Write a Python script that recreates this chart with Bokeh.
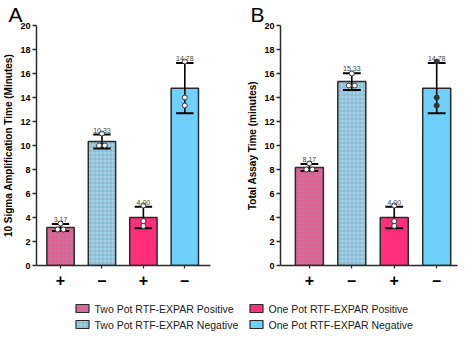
from bokeh.plotting import figure
from bokeh.models import Range1d, FixedTicker, Title, ColumnDataSource
from bokeh.layouts import column, row
from bokeh.embed import file_html
from bokeh.resources import INLINE
from bokeh.core.properties import value

# ---------------- data ----------------
groups = ["Two Pot RTF-EXPAR Positive", "Two Pot RTF-EXPAR Negative",
          "One Pot RTF-EXPAR Positive", "One Pot RTF-EXPAR Negative"]
tick_signs = ["+", "\u2013", "+", "\u2013"]
positions = [1, 2, 3, 4]

a_means = [3.17, 10.33, 4.00, 14.78]
a_errs = [0.29, 0.58, 0.9, 2.1]
a_points = [[3.0, 3.0, 3.5], [10.0, 10.0, 11.0], [3.3, 3.7, 5.0], [17.0, 14.0, 13.33]]
a_labels = ["3.17", "10.33", "4.00", "14.78"]

b_means = [8.17, 15.33, 4.00, 14.78]
b_errs = [0.29, 0.7, 0.9, 2.1]
b_points = [[8.0, 8.0, 8.5], [15.0, 15.0, 16.0], [3.3, 3.7, 5.0], [17.0, 14.0, 13.33]]
b_labels = ["8.17", "15.33", "4.00", "14.78"]

y_ticks = [0, 2, 4, 6, 8, 10, 12, 14, 16, 18, 20]

# ---------------- styles ----------------
FONT = "Liberation Sans"
fills = ["#ea5a93", "#9cd6ee", "#ff2f7b", "#6ed0fb"]
hatches = ["cross", "cross", " ", " "]
hatch_cols = ["#a78797", "#8ea4b4", "#ff2f7b", "#6ed0fb"]
point_fill = [["white"] * 4, ["white", "white", "white", "#333333"]]
jit = [-0.07, 0.07, 0.0]
BW = 0.66
CAP = 0.42
DARK = "#2b2b2b"


def panel(means, errs, points, labels, ylabel, letter, width, bl, br, xr, loff, pfill):
    p = figure(width=width, height=292, output_backend="svg", toolbar_location=None,
               x_range=Range1d(*xr), y_range=Range1d(0, 20),
               min_border_left=bl, min_border_right=br, min_border_top=0,
               min_border_bottom=27)
    p.outline_line_color = None
    p.xgrid.visible = False
    p.ygrid.visible = False
    p.background_fill_color = "white"
    p.border_fill_color = "white"

    src = ColumnDataSource(dict(x=positions, top=means, fill=fills, hatch=hatches,
                                hcol=hatch_cols))
    p.vbar(x="x", top="top", width=BW, bottom=0, source=src, fill_color="fill",
           line_color=DARK, line_width=1.5, hatch_pattern="hatch", hatch_color="hcol",
           hatch_scale=4, hatch_weight=0.7)

    lo = [m - e for m, e in zip(means, errs)]
    hi = [m + e for m, e in zip(means, errs)]
    p.segment(x0=positions, y0=lo, x1=positions, y1=hi, line_color="black", line_width=1.6)
    p.segment(x0=[x - CAP / 2 for x in positions], y0=hi,
              x1=[x + CAP / 2 for x in positions], y1=hi, line_color="black", line_width=2)
    p.segment(x0=[x - CAP / 2 for x in positions], y0=lo,
              x1=[x + CAP / 2 for x in positions], y1=lo, line_color="black", line_width=2)

    px, py, pf = [], [], []
    for i, pts in enumerate(points):
        for j, v in enumerate(pts):
            same = pts.count(v) > 1
            px.append(positions[i] + (jit[j] if same else 0.0))
            py.append(v)
            pf.append(pfill[i])
    p.scatter(px, py, size=5, fill_color=pf, line_color="#333333", line_width=1)

    p.text(x=positions, y=hi, text=labels, text_font=value(FONT), text_font_size="7px",
           text_color="#444444", text_align="center", text_baseline="bottom", y_offset=-2)

    ya = p.yaxis[0]
    ya.ticker = FixedTicker(ticks=y_ticks)
    ya.axis_label = ylabel
    ya.axis_label_text_font = FONT
    ya.axis_label_text_font_size = "10px"
    ya.axis_label_text_font_style = "bold"
    ya.axis_label_text_color = "black"
    ya.axis_label_standoff = 3
    ya.major_label_text_font = FONT
    ya.major_label_text_font_size = "9px"
    ya.major_label_text_font_style = "bold"
    ya.major_label_text_color = "black"
    ya.major_label_standoff = 2
    ya.axis_line_color = DARK
    ya.axis_line_width = 1.5
    ya.major_tick_line_color = DARK
    ya.major_tick_line_width = 1.5
    ya.major_tick_out = 4
    ya.major_tick_in = 0
    ya.minor_tick_line_color = None

    xa = p.xaxis[0]
    xa.ticker = FixedTicker(ticks=positions)
    xa.major_label_overrides = {x: s for x, s in zip(positions, tick_signs)}
    xa.major_label_text_font = FONT
    xa.major_label_text_font_size = "16px"
    xa.major_label_text_font_style = "bold"
    xa.major_label_text_color = "black"
    xa.major_label_standoff = 3
    xa.axis_line_color = DARK
    xa.axis_line_width = 1.5
    xa.major_tick_line_color = DARK
    xa.major_tick_line_width = 1.2
    xa.major_tick_out = 3
    xa.major_tick_in = 0
    xa.minor_tick_line_color = None

    p.add_layout(Title(text=letter, text_font=FONT, text_font_size="21px",
                       text_font_style="normal", text_color="black", align="left",
                       offset=loff, standoff=0), "above")
    return p


pa = panel(a_means, a_errs, a_points, a_labels, "10 Sigma Amplification Time (Minutes)",
           "A", 229, 28, 19, (0.42, 4.62), -28, point_fill[0])
pb = panel(b_means, b_errs, b_points, b_labels, "Total Assay Time (minutes)",
           "B", 229, 51, 1, (0.32, 4.49), -30, point_fill[1])

# ---------------- legend ----------------
leg = figure(width=458, height=47, output_backend="svg", toolbar_location=None,
             x_range=Range1d(0, 458), y_range=Range1d(47, 0),
             min_border=0)
leg.axis.visible = False
leg.grid.visible = False
leg.outline_line_color = None
sw_x = [82, 82, 256, 256]
sw_y = [16, 32, 16, 32]
leg_order = [0, 1, 2, 3]
leg.rect(x=sw_x, y=sw_y, width=13, height=8,
         fill_color=[fills[i] for i in leg_order], line_color=DARK, line_width=1.2,
         hatch_pattern=[hatches[i] for i in leg_order],
         hatch_color=[hatch_cols[i] for i in leg_order], hatch_scale=4, hatch_weight=0.7)
leg.text(x=[x + 12 for x in sw_x], y=sw_y, text=[groups[i] for i in leg_order],
         text_font=value(FONT), text_font_size="10.5px", text_color="#222222",
         text_baseline="middle", text_align="left")

layout = column(row(pa, pb), leg)
open("out.html", "w").write(file_html(layout, INLINE))
